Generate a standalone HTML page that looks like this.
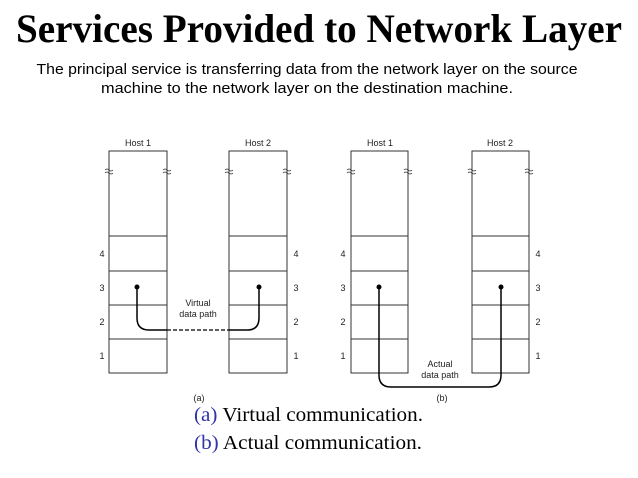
<!DOCTYPE html>
<html><head><meta charset="utf-8"><style>
html,body{margin:0;padding:0;background:#fff;}
svg{display:block;}
.s{font-family:"Liberation Sans",Arial,sans-serif;font-size:9px;fill:#222;}
</style></head><body>
<svg width="638" height="478" viewBox="0 0 638 478" xmlns="http://www.w3.org/2000/svg">
<text x="16" y="42" font-family="Liberation Serif,serif" font-weight="bold" font-size="40" textLength="606" lengthAdjust="spacingAndGlyphs">Services Provided to Network Layer</text>
<text x="307" y="74" text-anchor="middle" font-family="Liberation Sans,sans-serif" font-size="14.5" textLength="541" lengthAdjust="spacingAndGlyphs">The principal service is transferring data from the network layer on the source</text>
<text x="307" y="93" text-anchor="middle" font-family="Liberation Sans,sans-serif" font-size="14.5" textLength="412" lengthAdjust="spacingAndGlyphs">machine to the network layer on the destination machine.</text>

<g stroke="#333" stroke-width="1" fill="none">
<path d="M109 151H167V373H109Z M109 236H167 M109 271H167 M109 305H167 M109 339H167"/>
<path d="M229 151H287V373H229Z M229 236H287 M229 271H287 M229 305H287 M229 339H287"/>
<path d="M351 151H408V373H351Z M351 236H408 M351 271H408 M351 305H408 M351 339H408"/>
<path d="M472 151H529V373H472Z M472 236H529 M472 271H529 M472 305H529 M472 339H529"/>
<g stroke-width="0.8">
<path d="M105 170q2 -2 4 0t4 0 M105 173q2 -2 4 0t4 0"/>
<path d="M163 170q2 -2 4 0t4 0 M163 173q2 -2 4 0t4 0"/>
<path d="M225 170q2 -2 4 0t4 0 M225 173q2 -2 4 0t4 0"/>
<path d="M283 170q2 -2 4 0t4 0 M283 173q2 -2 4 0t4 0"/>
<path d="M347 170q2 -2 4 0t4 0 M347 173q2 -2 4 0t4 0"/>
<path d="M404 170q2 -2 4 0t4 0 M404 173q2 -2 4 0t4 0"/>
<path d="M468 170q2 -2 4 0t4 0 M468 173q2 -2 4 0t4 0"/>
<path d="M525 170q2 -2 4 0t4 0 M525 173q2 -2 4 0t4 0"/>
</g>
<path d="M137 287V318q0 12 12 12H167" stroke="#000" stroke-width="1.5"/>
<path d="M167 330H229" stroke="#000" stroke-width="1.2" stroke-dasharray="4,2"/>
<path d="M229 330H247q12 0 12 -12V287" stroke="#000" stroke-width="1.5"/>
<path d="M379 287V375q0 12 12 12H489q12 0 12 -12V287" stroke="#000" stroke-width="1.5"/>
</g>
<g fill="#000">
<circle cx="137" cy="287" r="2.5"/><circle cx="259" cy="287" r="2.5"/>
<circle cx="379" cy="287" r="2.5"/><circle cx="501" cy="287" r="2.5"/>
</g>
<g class="s">
<text x="138" y="146" text-anchor="middle">Host 1</text>
<text x="258" y="146" text-anchor="middle">Host 2</text>
<text x="380" y="146" text-anchor="middle">Host 1</text>
<text x="500" y="146" text-anchor="middle">Host 2</text>
<g text-anchor="middle">
<text x="102" y="257">4</text><text x="102" y="291">3</text><text x="102" y="325">2</text><text x="102" y="359">1</text>
<text x="296" y="257">4</text><text x="296" y="291">3</text><text x="296" y="325">2</text><text x="296" y="359">1</text>
<text x="343" y="257">4</text><text x="343" y="291">3</text><text x="343" y="325">2</text><text x="343" y="359">1</text>
<text x="538" y="257">4</text><text x="538" y="291">3</text><text x="538" y="325">2</text><text x="538" y="359">1</text>
<text x="198" y="306">Virtual</text><text x="198" y="317">data path</text>
<text x="440" y="367">Actual</text><text x="440" y="378">data path</text>
<text x="199" y="401">(a)</text><text x="442" y="401">(b)</text>
</g>
</g>
<g font-family="Liberation Serif,serif" font-size="20">
<text x="194" y="421" textLength="229" lengthAdjust="spacingAndGlyphs"><tspan fill="#3333aa">(a)</tspan> Virtual communication.</text>
<text x="194" y="449" textLength="228" lengthAdjust="spacingAndGlyphs"><tspan fill="#3333aa">(b)</tspan> Actual communication.</text>
</g>
</svg>
</body></html>
